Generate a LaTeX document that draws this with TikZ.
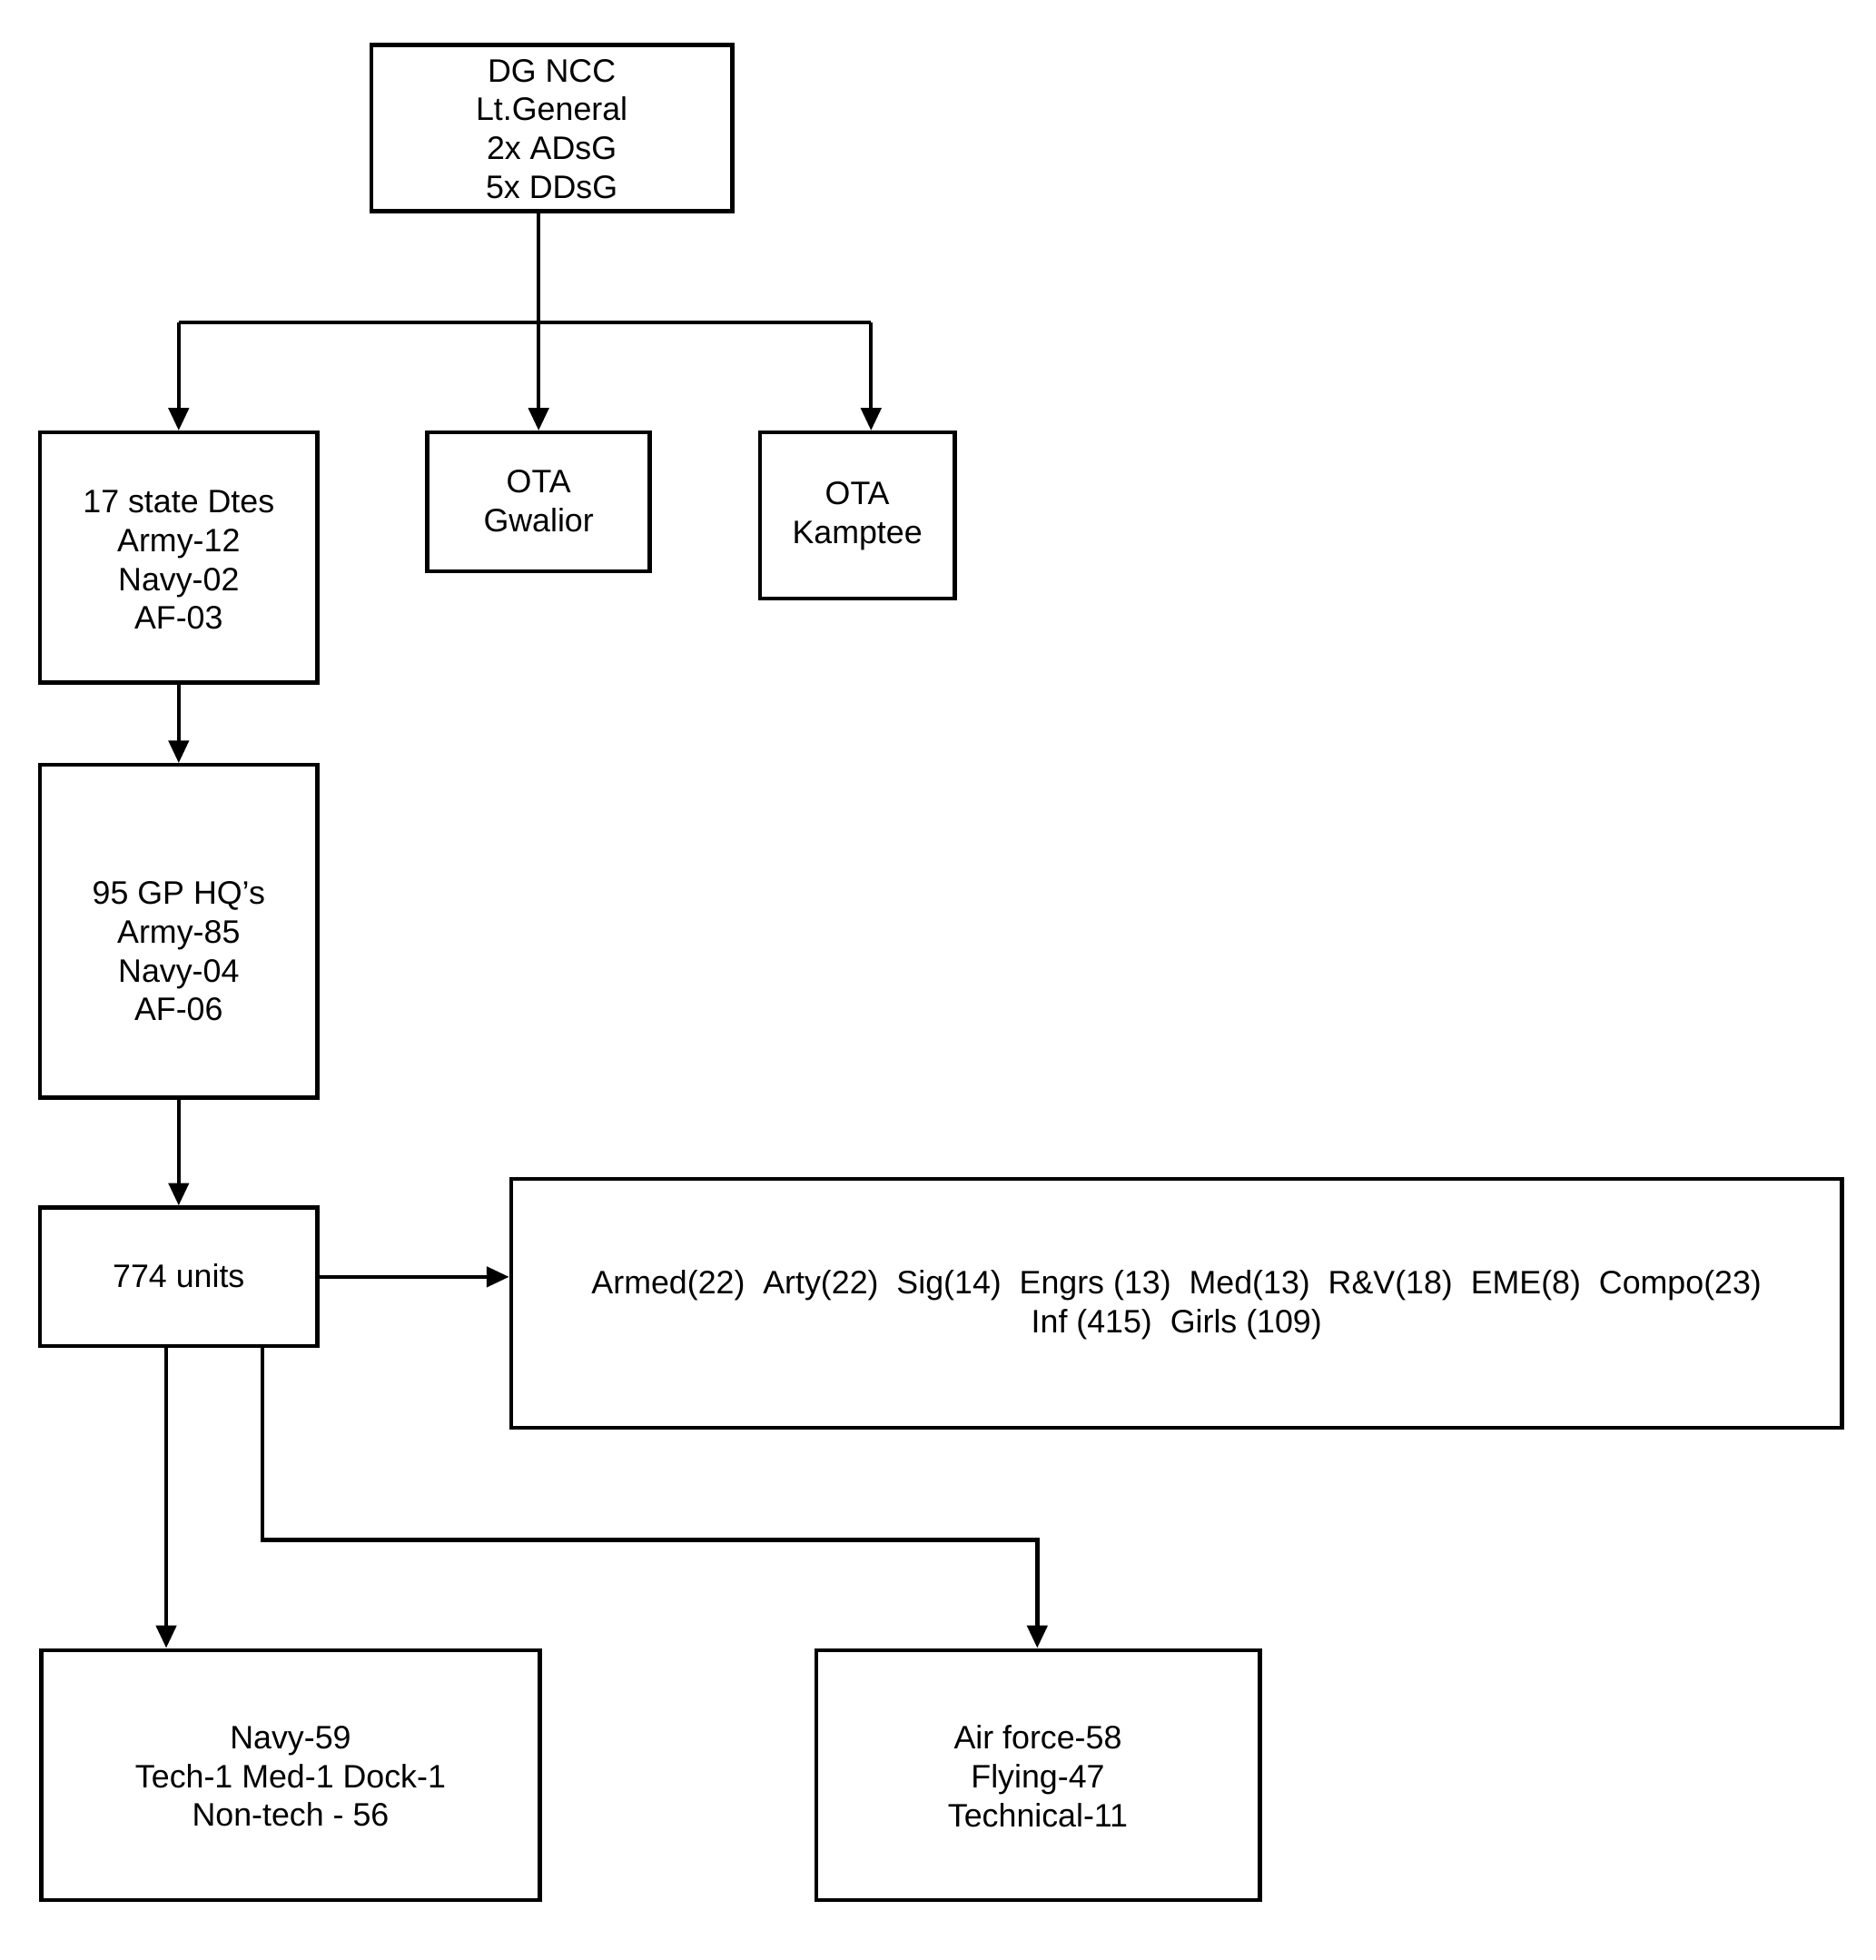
\documentclass[tikz,border=0pt]{standalone}
\usepackage{fontspec}
\setmainfont{Liberation Sans}
\usetikzlibrary{arrows.meta}
\begin{document}
\begin{tikzpicture}[x=0.5pt,y=-0.5pt,
  box/.style={draw,line width=1.6pt,inner sep=0pt},
  txt/.style={inner sep=0pt,align=center,font=\fontsize{13}{15.5}\selectfont},
  arr/.style={line width=1.6pt,-{Triangle[length=9pt,width=8pt]}},
  ln/.style={line width=1.6pt}]
\useasboundingbox (0,0) rectangle (1501,1568);
\def\bx#1#2#3#4#5#6#7{\node[box,minimum width={(#4-#2)*0.5pt},minimum height={(#5-#3)*0.5pt}] (#1) at ({(#2+#4)/2},{(#3+#5)/2}) {};
\node[txt] (#1t) at ({(#2+#4)/2},#6) {#7};}
\bx{dg}{297}{36}{586}{169}{103}{DG NCC\\Lt.General\\2x ADsG\\5x DDsG}
\bx{st}{32}{346}{254}{546}{448}{17 state Dtes\\Army-12\\Navy-02\\AF-03}
\bx{gw}{342}{346}{520}{457}{401}{OTA\\Gwalior}
\bx{ka}{608}{346}{764}{479}{413}{OTA\\Kamptee}
\bx{gp}{32}{612}{254}{878}{761}{95 GP HQ's\\Army-85\\Navy-04\\AF-06}
\bx{un}{32}{966}{254}{1077}{1021}{774 units}
\bx{ar}{409}{943}{1474}{1142}{1044}{Armed(22)\ \ Arty(22)\ \ Sig(14)\ \ Engrs (13)\ \ Med(13)\ \ R\&V(18)\ \ EME(8)\ \ Compo(23)\\Inf (415)\ \ Girls (109)}
\bx{nv}{33}{1320}{432}{1520}{1421}{Navy-59\\Tech-1 Med-1 Dock-1\\Non-tech - 56}
\bx{af}{653}{1320}{1008}{1520}{1421}{Air force-58\\Flying-47\\Technical-11}
\coordinate (j) at (431,258);
\draw[ln] (dg.south -| j) -- (j);
\draw[ln] (143,258) -- (697,258);
\draw[arr] (143,258) -- (st.north -| 143,0);
\draw[arr] (j) -- (gw.north -| j);
\draw[arr] (697,258) -- (ka.north -| 697,0);
\draw[arr] (st.south) -- (gp.north);
\draw[arr] (gp.south) -- (un.north);
\draw[arr] (un.east) -- (ar.west |- un.east);
\draw[arr] (un.south -| 133,0) -- (nv.north -| 133,0);
\draw[arr] (un.south -| 210,0) -- (210,1232) -- (830,1232) -- (af.north -| 830,0);
\end{tikzpicture}
\end{document}
